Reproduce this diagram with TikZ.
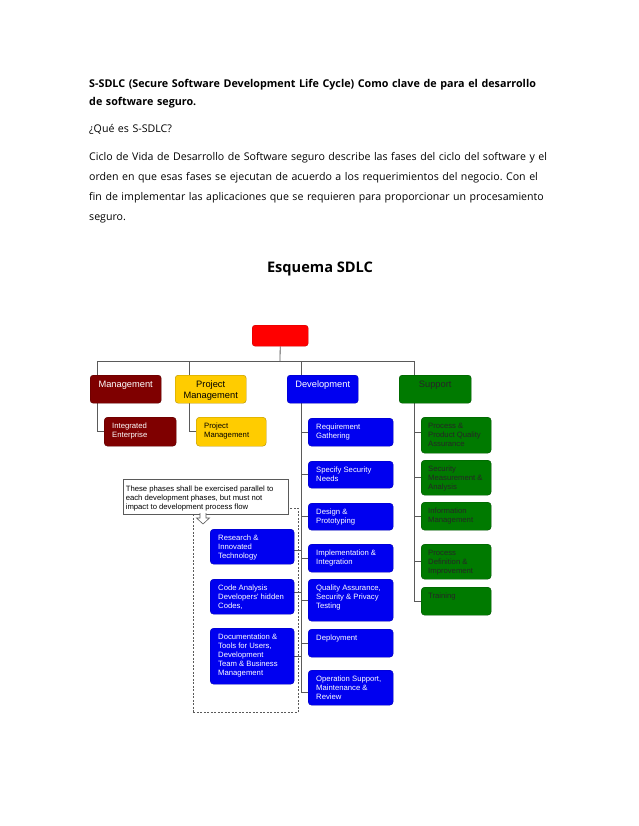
\documentclass[tikz,border=0pt]{standalone}
\usepackage{fontspec}
\setmainfont{Open Sans}
\newfontfamily\arialf{Liberation Sans}
\usetikzlibrary{backgrounds}
\frenchspacing

\definecolor{mred}{HTML}{7F0000}
\definecolor{myel}{HTML}{FFCC00}
\definecolor{mblue}{HTML}{0000F0}
\definecolor{mgreen}{HTML}{007A00}
\definecolor{lgrey}{HTML}{5A5A5A}

\newcommand\tbx[3]{\parbox[t][#2pt][t]{#1pt}{\raggedright #3}}
\newcommand\tcx[3]{\parbox[t][#2pt][t]{#1pt}{\centering #3}}

\begin{document}
\begin{tikzpicture}[x=1pt,y=-1pt,
  para/.style={anchor=base west, inner sep=0pt, align=left, text width=520pt},
  topbox/.style={rounded corners=3pt, anchor=north west, inner xsep=0pt, inner ysep=6pt,
    font=\arialf\fontsize{9.3}{11}\selectfont},
  subbox/.style={rounded corners=3.5pt, anchor=north west, inner xsep=8pt, inner ysep=5.5pt,
    font=\arialf\fontsize{7.7}{9}\selectfont},
  bluebox/.style={subbox, fill=mblue, draw=mblue!75!black, text=white},
  greenbox/.style={subbox, inner xsep=7pt, fill=mgreen, draw=mgreen!70!black, text=black!85},
  conn/.style={draw=lgrey, line width=0.8pt},
]
\useasboundingbox (0,0) rectangle (638,826);

% ---------- text ----------
\node[para, font=\bfseries\fontsize{10.75}{18.7}\selectfont] (title) at (89,87.3)
  {S-SDLC (Secure Software Development Life Cycle) Como clave de para el desarrollo\\de software seguro.};
\node[para, font=\fontsize{10.6}{19.8}\selectfont] (q) at (89,132.7) {¿Qué es S-SDLC?};
\node[para, font=\fontsize{10.6}{19.8}\selectfont] (body) at (89,160.7)
  {Ciclo de Vida de Desarrollo de Software seguro describe las fases del ciclo del software y el\\
   orden en que esas fases se ejecutan de acuerdo a los requerimientos del negocio. Con el\\
   fin de implementar las aplicaciones que se requieren para proporcionar un procesamiento\\
   seguro.};
\node[anchor=base, inner sep=0pt, font=\bfseries\fontsize{14.6}{17}\selectfont] (esq) at (320,272) {Esquema SDLC};

% ---------- top level ----------
\node[rounded corners=3pt, anchor=north west, fill=red, draw=red!80!black, minimum width=56pt, minimum height=21pt, inner sep=0pt] (root) at (252,325) {};

\node[topbox, fill=mred, draw=mred!70!black, text=white] (mgmt) at (90,375) {\tcx{71}{16}{Management}};
\node[topbox, fill=myel, draw=myel!70!black, text=black] (proj) at (175,375) {\tcx{71}{16}{Project\\Management}};
\node[topbox, fill=mblue, draw=mblue!75!black, text=white] (dev) at (287,375) {\tcx{71}{16}{Development}};
\node[topbox, fill=mgreen, draw=mgreen!70!black, text=black!85] (sup) at (399,375) {\tcx{72}{16}{Support}};

% ---------- management / project ----------
\node[subbox, fill=mred, draw=mred!70!black, text=white] (ie) at (104,417) {\tbx{56}{18}{Integrated\\Enterprise}};
\node[subbox, fill=myel, draw=myel!70!black, text=black] (pm) at (196,417) {\tbx{54}{18}{Project\\Management}};

% ---------- development ----------
\node[bluebox] (rg) at (308,418) {\tbx{69}{17}{Requirement\\Gathering}};
\node[bluebox] (ssn) at (308,461) {\tbx{69}{16}{Specify Security\\Needs}};
\node[bluebox] (dp) at (308,503) {\tbx{69}{16}{Design \&\\Prototyping}};
\node[bluebox] (ii) at (308,544) {\tbx{69}{17}{Implementation \&\\Integration}};
\node[bluebox] (qa) at (308,579) {\tbx{69}{31}{Quality Assurance,\\Security \& Privacy\\Testing}};
\node[bluebox] (dep) at (308,629) {\tbx{69}{17}{Deployment}};
\node[bluebox] (ops) at (308,670) {\tbx{69}{24}{Operation Support,\\Maintenance \&\\Review}};

% ---------- parallel phases ----------
\node[draw=lgrey, dashed, dash pattern=on 2pt off 1.5pt, line width=0.5pt, anchor=north west, minimum width=105pt, minimum height=204pt, inner sep=0pt] (grp) at (193,508) {};
\node[bluebox] (rit) at (210,529) {\tbx{68}{24}{Research \&\\Innovated\\Technology}};
\node[bluebox] (ca) at (210,579) {\tbx{68}{24}{Code Analysis\\Developers' hidden\\Codes,}};
\node[bluebox] (doc) at (210,628) {\tbx{68}{45}{Documentation \&\\Tools for Users,\\Development\\Team \& Business\\Management}};

\node[anchor=north west, fill=white, draw=lgrey, line width=0.6pt, inner xsep=2.5pt, inner ysep=7pt,
  font=\arialf\fontsize{7.7}{9}\selectfont] (note) at (123,479)
  {\tbx{160}{21}{These phases shall be exercised parallel to\\each development phases, but must not\\impact to development process flow}};
\filldraw[fill=white, draw=lgrey, line width=0.6pt]
  (200,513) -- (200,518) -- (196.5,518) -- (203,524) -- (209.5,518) -- (206,518) -- (206,513);

% ---------- support ----------
\node[greenbox] (ppqa) at (421,417) {\tbx{56}{25}{Process \&\\Product Quality\\Assurance}};
\node[greenbox] (sma) at (421,460) {\tbx{56}{24}{Security\\Measurement \&\\Analysis}};
\node[greenbox] (im) at (421,502) {\tbx{56}{17}{Information\\Management}};
\node[greenbox] (pdi) at (421,544) {\tbx{56}{24}{Process\\Definition \&\\Improvement}};
\node[greenbox] (tr) at (421,587) {\tbx{56}{17}{Training}};

% ---------- connectors ----------
\coordinate (hub) at (280,361);
\coordinate (mx) at (97,361);
\coordinate (px) at (189,361);
\coordinate (dx) at (301,361);
\coordinate (sx) at (414,361);
\begin{scope}[on background layer]
  \draw[conn] (root.south) -- (hub);
  \draw[conn] (mx) -- (sx);
  \draw[conn] (mx) |- (ie.west);
  \draw[conn] (px) |- (pm.west);
  \draw[conn] (dx) |- ([yshift=-5pt]ops.west);
  \foreach \n in {rg,ssn,dp,ii,qa,dep} \draw[conn] (dx |- \n.west) -- (\n.west);
  \draw[conn] ([yshift=-3.5pt]rit.east) -- ([yshift=-3.5pt]rit.east -| dx);
  \draw[conn] ([yshift=4.5pt]ca.east) -- ([yshift=4.5pt]ca.east -| dx);
  \draw[conn] (doc.east) -- (doc.east -| dx);
  \draw[conn] (sx) |- (tr.west);
  \draw[conn] (sx |- ppqa.west) ++(0,-3) -- ([yshift=3pt]ppqa.west);
  \foreach \n in {sma,im,pdi} \draw[conn] (sx |- \n.west) -- (\n.west);
\end{scope}
\end{tikzpicture}
\end{document}
